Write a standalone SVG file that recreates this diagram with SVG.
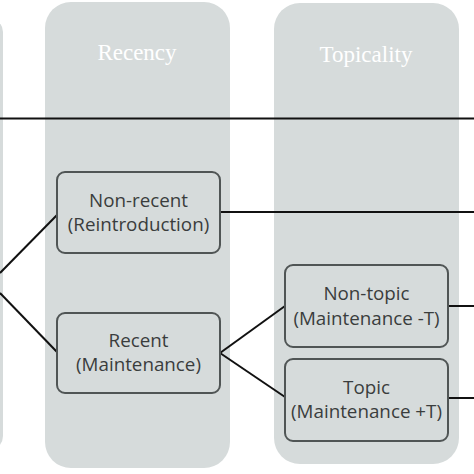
<svg xmlns="http://www.w3.org/2000/svg" width="474" height="474" viewBox="0 0 474 474">
<style>
.panel{fill:#d6dbdb}
.head{font-family:"Liberation Serif",serif;font-size:23px;fill:#ffffff;text-anchor:middle}
.box{fill:#d6dbdb;stroke:#505555;stroke-width:2}
.lbl{font-family:"Open Sans","Noto Sans",sans-serif;font-size:18.8px;fill:#3a3d3d;text-anchor:middle}
.con{stroke:#111111;stroke-width:2;fill:none}
</style>
<rect width="474" height="474" fill="#ffffff"/>
<g id="panel-left"><rect class="panel" x="-180" y="18" width="183" height="432" rx="14"/></g>
<g id="panel-recency">
<rect class="panel" x="45" y="2" width="185" height="466" rx="26"/>
<text class="head" x="137" y="60">Recency</text>
</g>
<g id="panel-topicality">
<rect class="panel" x="274" y="3" width="185" height="461" rx="26"/>
<text class="head" x="366" y="62">Topicality</text>
</g>
<g id="connectors">
<line class="con" x1="0" y1="118.5" x2="474" y2="118.5"/>
<line class="con" x1="0" y1="273" x2="57" y2="215"/>
<line class="con" x1="0" y1="293" x2="57" y2="352"/>
<line class="con" x1="220" y1="212" x2="474" y2="212"/>
<line class="con" x1="220" y1="353" x2="285" y2="306"/>
<line class="con" x1="220" y1="353" x2="285" y2="397"/>
<line class="con" x1="448" y1="306" x2="474" y2="306"/>
<line class="con" x1="448" y1="398" x2="474" y2="398"/>
</g>
<g id="node-nonrecent">
<rect class="box" x="57" y="172" width="163" height="81" rx="8"/>
<text class="lbl" x="138.5" y="207">Non-recent</text>
<text class="lbl" x="138.5" y="231">(Reintroduction)</text>
</g>
<g id="node-recent">
<rect class="box" x="57" y="313" width="163" height="80" rx="8"/>
<text class="lbl" x="138.5" y="347">Recent</text>
<text class="lbl" x="138.5" y="371">(Maintenance)</text>
</g>
<g id="node-nontopic">
<rect class="box" x="285" y="265" width="163" height="82" rx="8"/>
<text class="lbl" x="366.5" y="300">Non-topic</text>
<text class="lbl" x="366.5" y="325">(Maintenance -T)</text>
</g>
<g id="node-topic">
<rect class="box" x="285" y="359" width="163" height="82" rx="8"/>
<text class="lbl" x="366.5" y="394">Topic</text>
<text class="lbl" x="366.5" y="418">(Maintenance +T)</text>
</g>
</svg>
